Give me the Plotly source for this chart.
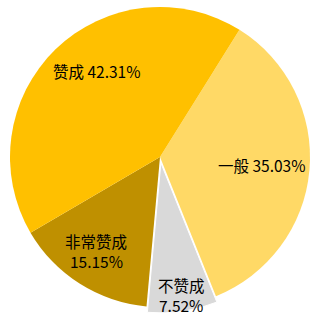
import math
import plotly.graph_objects as go

categories = ["一般", "不赞成", "非常赞成", "赞成"]
values = [35.03, 7.52, 15.15, 42.31]
colors = ["#FFD966", "#D9D9D9", "#BF9000", "#FFC000"]
pulls = [0, 0.04, 0, 0]
label_lines = [["一般 35.03%"], ["不赞成", "7.52%"], ["非常赞成", "15.15%"], ["赞成 42.31%"]]

# styling for label placement (fraction of radius, angle tweak in degrees)
label_r = [0.72, 0.95, 0.80, 0.71]
label_da = [1.5, -1, 0, 7]
line_gap = 21
font_size = 15.5

W, H = 324, 322
ml, mr, mt, mb = 4, 8, 1, 9
rotation = 32

fig = go.Figure(go.Pie(
    labels=categories,
    values=values,
    textinfo="none",
    sort=False,
    direction="clockwise",
    rotation=rotation,
    pull=pulls,
    marker=dict(colors=colors, line=dict(color="white", width=[0, 1, 0, 0])),
    showlegend=False,
    hoverinfo="label+percent",
))

# compute label positions from the data
pw, ph = W - ml - mr, H - mt - mb
cx, cy = ml + pw / 2, mt + ph / 2
R = min(pw, ph) / 2 / (1 + max(pulls))
total = sum(values)
start = rotation
for v, lines, rf, da, p in zip(values, label_lines, label_r, label_da, pulls):
    span = v / total * 360
    mid0 = math.radians(start + span / 2)
    mid = math.radians(start + span / 2 + da)
    ox = cx + R * p * math.sin(mid0)
    oy = cy - R * p * math.cos(mid0)
    px = ox + R * rf * math.sin(mid)
    py = oy - R * rf * math.cos(mid)
    n = len(lines)
    for i, t in enumerate(lines):
        ly = py + (i - (n - 1) / 2) * line_gap
        fig.add_annotation(
            x=px / W, y=1 - ly / H, xref="paper", yref="paper",
            text=t, showarrow=False,
            font=dict(family="Noto Sans CJK SC", size=font_size, color="black"),
            xanchor="center", yanchor="middle", align="center",
        )
    start += span

fig.update_layout(
    width=W, height=H,
    margin=dict(l=ml, r=mr, t=mt, b=mb),
    paper_bgcolor="white",
    plot_bgcolor="white",
)

fig.write_html("out.html")
